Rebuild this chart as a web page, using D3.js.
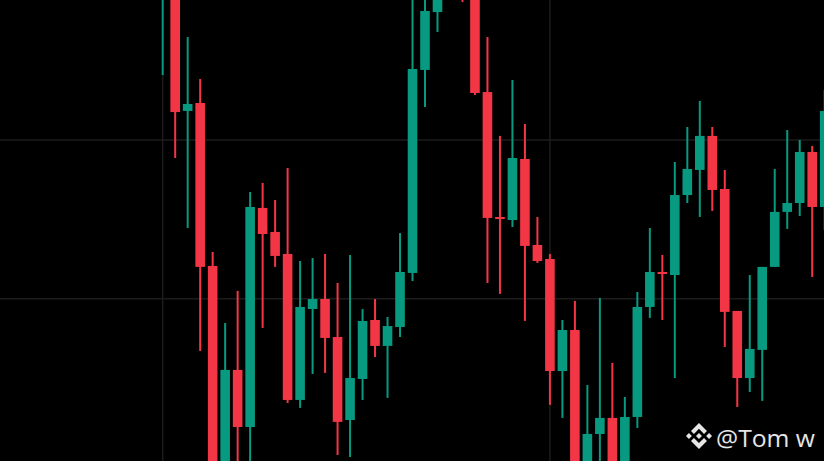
<!DOCTYPE html>
<html>
<head>
<meta charset="utf-8">
<script src="https://cdn.jsdelivr.net/npm/d3@7"></script>
<style>
  html, body { margin: 0; padding: 0; background: #000; overflow: hidden; }
  svg { display: block; }
</style>
</head>
<body>
<script>
// ---- Data (OHLC, price units) ----
const opens  = [43974,44006,43182,43232,42207,40798,41553,41194,42572,42421,42282,41364,41936,41999,41760,41238,41496,41867,41704,41823,42163,43440,43804,44037,44194,43943,43301,42515,42496,42880,42339,42251,41546,41804,40861,41150,41251,40924,41257,41949,42169,42150,42653,42811,43025,42691,41924,41502,41679,42201,42547,42603,42924,42578];
const highs  = [44446,44069,43647,43383,42295,41848,42050,42672,42729,42622,42823,42238,42257,42282,42100,42276,41936,41999,41886,42414,44006,43974,44069,44446,44257,44069,43647,43025,43377,43100,42515,42282,41867,41987,41458,42006,41597,41383,42043,42446,42276,42861,43081,43245,43081,42811,41924,42150,42201,42817,43062,42999,42962,43314];
const lows   = [43408,42886,42446,41672,40735,40672,40924,40892,41817,42201,41345,41314,41527,41534,41018,41005,41364,41634,41377,41760,42112,43207,43679,43911,43867,43282,42100,42031,42452,41861,42226,41333,41251,40609,40735,40924,40735,40798,41188,41880,41867,41502,42603,42515,42553,41697,41320,41414,41358,42201,42440,42521,42138,42433];
const closes = [44320,43175,43226,42201,40829,41553,41194,42578,42408,42270,41364,41949,41999,41754,41226,41502,41861,41704,41829,42169,43446,43811,44006,44320,43943,43295,42509,42502,42886,42333,42238,41546,41804,40798,41150,41251,40892,41257,41949,42169,42163,42653,42817,43025,42685,41918,41502,41685,42201,42547,42603,42924,42578,43182];
const priceGrid = [42000, 43000];     // horizontal grid prices
const timeGrid  = [0, 31];            // candle indices with vertical grid lines
const priceView = [40980, 43880];     // visible price window (bottom, top)
const watermark = "@Tom w";

const W = 824, H = 461;
const UP = "#089981", DOWN = "#F23645";

const candles = opens.map((o, i) => ({ i, o, h: highs[i], l: lows[i], c: closes[i] }));

const svg = d3.select("body").append("svg")
  .attr("width", W).attr("height", H)
  .style("background", "#000");

const x = d3.scalePoint()
  .domain(candles.map(d => d.i))
  .range([162.7, 824.7]);
const y = d3.scaleLinear().domain(priceView).range([H, 0]);

const bodyW = 9.6;

// grid
const grid = svg.append("g").attr("stroke", "#1c1c1c").attr("stroke-width", 1.5);
grid.selectAll("line.h").data(priceGrid).join("line")
  .attr("class", "h").attr("x1", 0).attr("x2", W)
  .attr("y1", d => y(d)).attr("y2", d => y(d));
grid.selectAll("line.v").data(timeGrid).join("line")
  .attr("class", "v").attr("y1", 0).attr("y2", H)
  .attr("x1", d => x(d)).attr("x2", d => x(d));

// candles
const g = svg.append("g");
const cg = g.selectAll("g.candle").data(candles).join("g").attr("class", "candle")
  .attr("fill", d => d.c >= d.o ? UP : DOWN);

cg.append("rect")
  .attr("x", d => x(d.i) - 1)
  .attr("width", 2)
  .attr("y", d => y(d.h))
  .attr("height", d => y(d.l) - y(d.h));

cg.append("rect")
  .attr("x", d => x(d.i) - bodyW / 2)
  .attr("width", bodyW)
  .attr("y", d => y(Math.max(d.o, d.c)))
  .attr("height", d => Math.max(2, Math.abs(y(d.o) - y(d.c))));

// watermark
const wm = svg.append("g").attr("fill", "#e6e6e6");
wm.append("path")
  .attr("transform", "translate(686,423) scale(0.205)")
  .attr("d", "M38.73 53.2l24.59-24.58 24.6 24.6 14.3-14.31L63.32 0 24.42 38.9l14.31 14.3zM0 63.31l14.3-14.31 14.31 14.31-14.31 14.3zM38.73 73.41l24.59 24.59 24.6-24.6 14.31 14.29-38.9 38.91-38.91-38.88-.02-.02 14.32-14.29zM98.28 63.31l14.3-14.31 14.31 14.3-14.31 14.32zM77.83 63.3L63.32 48.78 52.59 59.51l-1.24 1.23-2.54 2.54-.02.02.02.03 14.51 14.5 14.51-14.51.01-.01-.01-.01z");
wm.append("text")
  .attr("x", 716).attr("y", 446.5)
  .attr("font-family", "'Open Sans', 'Noto Sans', sans-serif")
  .attr("font-size", 23)
  .attr("textLength", 99)
  .attr("lengthAdjust", "spacingAndGlyphs")
  .text(watermark);
</script>
</body>
</html>
